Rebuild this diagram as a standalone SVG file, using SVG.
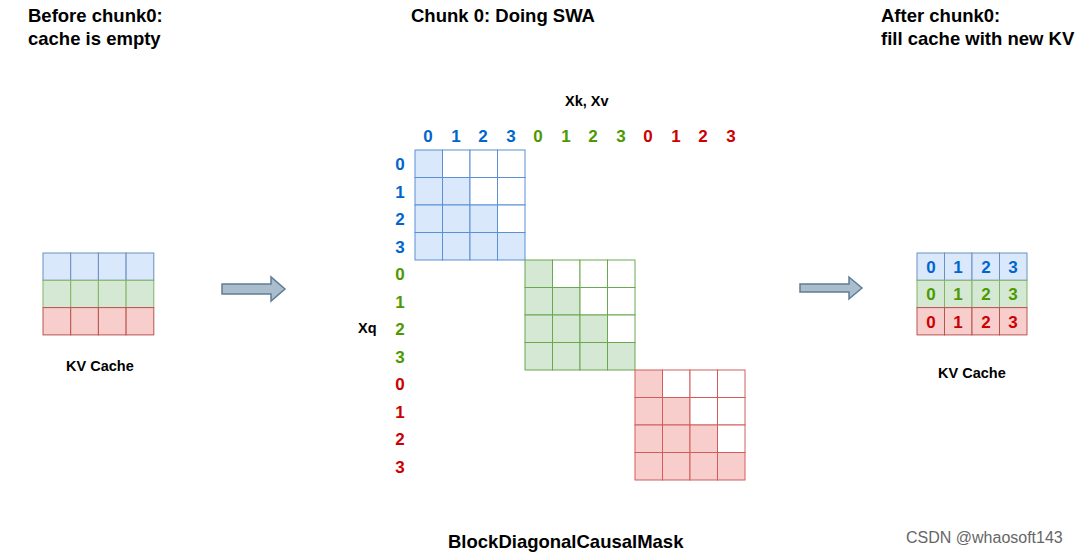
<svg xmlns="http://www.w3.org/2000/svg" width="1080" height="554" viewBox="0 0 1080 554">
<style>
text{font-family:"Liberation Sans",Arial,sans-serif;font-weight:bold}
.t{font-size:18.5px;fill:#000}
.s{font-size:14.5px;fill:#000}
.n{font-size:17px;text-anchor:middle}
.b{fill:#0066cc}.g{fill:#4d9900}.r{fill:#cc0000}
.cb{fill:#dae8fc;stroke:#6c8ebf}.cg{fill:#d5e8d4;stroke:#82b366}.cr{fill:#f8cecc;stroke:#b85450}
.mb{stroke:#5b8fd6}.mg{stroke:#6aa84f}.mr{stroke:#d25c5c}
.w{fill:#fff}
.ar{fill:#a9bdcc;stroke:#5f7d96;stroke-width:1.5}
</style>
<rect width="1080" height="554" fill="#fff"/>
<g id="titles">
<text class="t" x="28" y="22">Before chunk0:</text>
<text class="t" x="28" y="45">cache is empty</text>
<text class="t" x="411" y="22">Chunk 0: Doing SWA</text>
<text class="t" x="881" y="22">After chunk0:</text>
<text class="t" x="881" y="45">fill cache with new KV</text>
<text class="s" x="565" y="106" font-size="13">Xk,  Xv</text>
<text class="s" x="358" y="333" font-size="14">Xq</text>
<text class="t" x="448" y="548">BlockDiagonalCausalMask</text>
<text x="906" y="543" font-size="16" style="font-weight:normal" fill="#666">CSDN @whaosoft143</text>
</g>
<g id="left-cache">
<g class="cb"><rect x="43" y="253" width="27.7" height="27.3"/><rect x="70.7" y="253" width="27.7" height="27.3"/><rect x="98.4" y="253" width="27.7" height="27.3"/><rect x="126.1" y="253" width="27.7" height="27.3"/></g>
<g class="cg"><rect x="43" y="280.3" width="27.7" height="27.3"/><rect x="70.7" y="280.3" width="27.7" height="27.3"/><rect x="98.4" y="280.3" width="27.7" height="27.3"/><rect x="126.1" y="280.3" width="27.7" height="27.3"/></g>
<g class="cr"><rect x="43" y="307.6" width="27.7" height="27.3"/><rect x="70.7" y="307.6" width="27.7" height="27.3"/><rect x="98.4" y="307.6" width="27.7" height="27.3"/><rect x="126.1" y="307.6" width="27.7" height="27.3"/></g>
<text class="s" x="66" y="371">KV Cache</text>
</g>
<g id="right-cache">
<g class="cb"><rect x="917" y="253" width="27.5" height="27.3"/><rect x="944.5" y="253" width="27.5" height="27.3"/><rect x="972" y="253" width="27.5" height="27.3"/><rect x="999.5" y="253" width="27.5" height="27.3"/></g>
<g class="cg"><rect x="917" y="280.3" width="27.5" height="27.3"/><rect x="944.5" y="280.3" width="27.5" height="27.3"/><rect x="972" y="280.3" width="27.5" height="27.3"/><rect x="999.5" y="280.3" width="27.5" height="27.3"/></g>
<g class="cr"><rect x="917" y="307.6" width="27.5" height="27.3"/><rect x="944.5" y="307.6" width="27.5" height="27.3"/><rect x="972" y="307.6" width="27.5" height="27.3"/><rect x="999.5" y="307.6" width="27.5" height="27.3"/></g>
<g class="n b"><text x="931" y="273">0</text><text x="958" y="273">1</text><text x="986" y="273">2</text><text x="1013" y="273">3</text></g>
<g class="n g"><text x="931" y="300">0</text><text x="958" y="300">1</text><text x="986" y="300">2</text><text x="1013" y="300">3</text></g>
<g class="n r"><text x="931" y="328">0</text><text x="958" y="328">1</text><text x="986" y="328">2</text><text x="1013" y="328">3</text></g>
<text class="s" x="938" y="378">KV Cache</text>
</g>
<g id="connectors">
<path class="ar" d="M222,284 H271 V277 L285,289 L271,301 V294 H222 Z"/>
<path class="ar" d="M800,284 H849 V277 L862,288 L849,299 V292 H800 Z"/>
</g>
<g id="col-labels" class="n">
<text class="b" x="428" y="142">0</text><text class="b" x="456" y="142">1</text><text class="b" x="483" y="142">2</text><text class="b" x="511" y="142">3</text>
<text class="g" x="538" y="142">0</text><text class="g" x="566" y="142">1</text><text class="g" x="593" y="142">2</text><text class="g" x="621" y="142">3</text>
<text class="r" x="648" y="142">0</text><text class="r" x="676" y="142">1</text><text class="r" x="703" y="142">2</text><text class="r" x="731" y="142">3</text>
</g>
<g id="row-labels" class="n">
<text class="b" x="400" y="170">0</text><text class="b" x="400" y="198">1</text><text class="b" x="400" y="225">2</text><text class="b" x="400" y="253">3</text>
<text class="g" x="400" y="280">0</text><text class="g" x="400" y="308">1</text><text class="g" x="400" y="335">2</text><text class="g" x="400" y="363">3</text>
<text class="r" x="400" y="390">0</text><text class="r" x="400" y="418">1</text><text class="r" x="400" y="445">2</text><text class="r" x="400" y="473">3</text>
</g>
<g id="block-blue" class="mb">
<rect class="cb mb" x="415" y="150" width="27.5" height="27.5"/><rect class="w" x="442.5" y="150" width="27.5" height="27.5"/><rect class="w" x="470" y="150" width="27.5" height="27.5"/><rect class="w" x="497.5" y="150" width="27.5" height="27.5"/>
<rect class="cb mb" x="415" y="177.5" width="27.5" height="27.5"/><rect class="cb mb" x="442.5" y="177.5" width="27.5" height="27.5"/><rect class="w" x="470" y="177.5" width="27.5" height="27.5"/><rect class="w" x="497.5" y="177.5" width="27.5" height="27.5"/>
<rect class="cb mb" x="415" y="205" width="27.5" height="27.5"/><rect class="cb mb" x="442.5" y="205" width="27.5" height="27.5"/><rect class="cb mb" x="470" y="205" width="27.5" height="27.5"/><rect class="w" x="497.5" y="205" width="27.5" height="27.5"/>
<rect class="cb mb" x="415" y="232.5" width="27.5" height="27.5"/><rect class="cb mb" x="442.5" y="232.5" width="27.5" height="27.5"/><rect class="cb mb" x="470" y="232.5" width="27.5" height="27.5"/><rect class="cb mb" x="497.5" y="232.5" width="27.5" height="27.5"/>
</g>
<g id="block-green" class="mg">
<rect class="cg mg" x="525" y="260" width="27.5" height="27.5"/><rect class="w" x="552.5" y="260" width="27.5" height="27.5"/><rect class="w" x="580" y="260" width="27.5" height="27.5"/><rect class="w" x="607.5" y="260" width="27.5" height="27.5"/>
<rect class="cg mg" x="525" y="287.5" width="27.5" height="27.5"/><rect class="cg mg" x="552.5" y="287.5" width="27.5" height="27.5"/><rect class="w" x="580" y="287.5" width="27.5" height="27.5"/><rect class="w" x="607.5" y="287.5" width="27.5" height="27.5"/>
<rect class="cg mg" x="525" y="315" width="27.5" height="27.5"/><rect class="cg mg" x="552.5" y="315" width="27.5" height="27.5"/><rect class="cg mg" x="580" y="315" width="27.5" height="27.5"/><rect class="w" x="607.5" y="315" width="27.5" height="27.5"/>
<rect class="cg mg" x="525" y="342.5" width="27.5" height="27.5"/><rect class="cg mg" x="552.5" y="342.5" width="27.5" height="27.5"/><rect class="cg mg" x="580" y="342.5" width="27.5" height="27.5"/><rect class="cg mg" x="607.5" y="342.5" width="27.5" height="27.5"/>
</g>
<g id="block-red" class="mr">
<rect class="cr mr" x="635" y="370" width="27.5" height="27.5"/><rect class="w" x="662.5" y="370" width="27.5" height="27.5"/><rect class="w" x="690" y="370" width="27.5" height="27.5"/><rect class="w" x="717.5" y="370" width="27.5" height="27.5"/>
<rect class="cr mr" x="635" y="397.5" width="27.5" height="27.5"/><rect class="cr mr" x="662.5" y="397.5" width="27.5" height="27.5"/><rect class="w" x="690" y="397.5" width="27.5" height="27.5"/><rect class="w" x="717.5" y="397.5" width="27.5" height="27.5"/>
<rect class="cr mr" x="635" y="425" width="27.5" height="27.5"/><rect class="cr mr" x="662.5" y="425" width="27.5" height="27.5"/><rect class="cr mr" x="690" y="425" width="27.5" height="27.5"/><rect class="w" x="717.5" y="425" width="27.5" height="27.5"/>
<rect class="cr mr" x="635" y="452.5" width="27.5" height="27.5"/><rect class="cr mr" x="662.5" y="452.5" width="27.5" height="27.5"/><rect class="cr mr" x="690" y="452.5" width="27.5" height="27.5"/><rect class="cr mr" x="717.5" y="452.5" width="27.5" height="27.5"/>
</g>
</svg>
